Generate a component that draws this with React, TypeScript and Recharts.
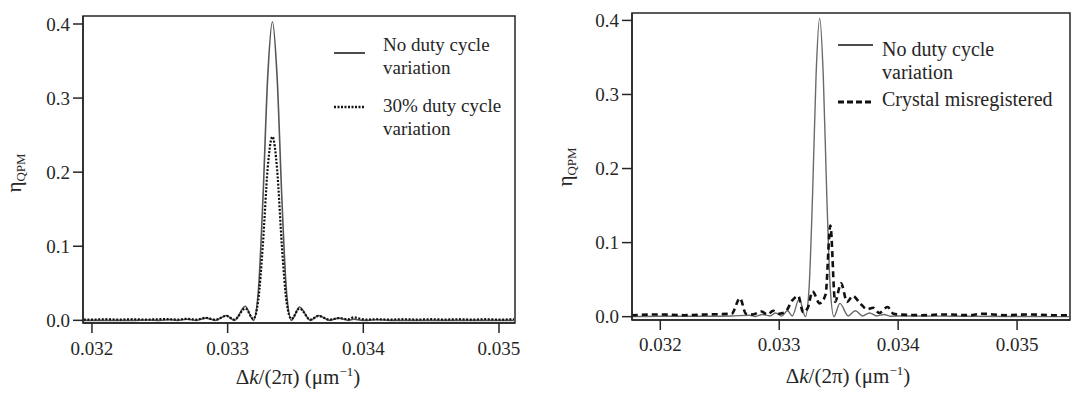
import React from 'react';
import { LineChart, Line, XAxis, YAxis, ReferenceArea, Label } from 'recharts';

const FONT = 'Liberation Serif, Times New Roman, serif';
const INK = '#262626';

const X_TICKS = [0.032, 0.033, 0.034, 0.035];
const Y_TICKS = [0, 0.1, 0.2, 0.3, 0.4];

// left panel: duty cycle variation
const LEFT_K = [
  0.03194, 0.032, 0.0321, 0.0322, 0.0323, 0.0324, 0.0325, 0.03257, 0.03263, 0.0327,
  0.03277, 0.03284, 0.03291, 0.03299, 0.03305, 0.03313, 0.03319, 0.033225, 0.03326, 0.033295,
  0.03333, 0.033365, 0.0334, 0.033435, 0.03347, 0.03353, 0.03361, 0.03367, 0.03375, 0.03382,
  0.03389, 0.03393, 0.03398, 0.03403, 0.0341, 0.0342, 0.0343, 0.0344, 0.0345, 0.0346,
  0.0347, 0.0348, 0.0349, 0.035, 0.03511,
];
const LEFT_NO_VARIATION = [
  0, 0, 0, 0, 0, 0.0005, 0, 0.001, 0, 0.0015,
  0, 0.003, 0, 0.0066, 0, 0.019, 0, 0.036, 0.163, 0.327,
  0.403, 0.327, 0.163, 0.036, 0, 0.018, 0, 0.0066, 0, 0.003,
  0, 0.0015, 0.0003, 0, 0.0008, 0, 0, 0, 0, 0,
  0, 0, 0, 0, 0,
];
const LEFT_30PCT = [
  0.001, 0.001, 0.0015, 0.001, 0.0015, 0.001, 0.0015, 0.0015, 0.001, 0.002,
  0.001, 0.0035, 0.0008, 0.006, 0.001, 0.016, 0.002, 0.026, 0.103, 0.205,
  0.248, 0.203, 0.1, 0.024, 0.002, 0.016, 0.001, 0.006, 0.001, 0.003,
  0.0015, 0.004, 0.002, 0.001, 0.0015, 0.001, 0.0015, 0.001, 0.0015, 0.001,
  0.0015, 0.001, 0.0015, 0.001, 0.0015,
];

// right panel: misregistered crystal
const RIGHT_K_SOLID = [
  0.03176, 0.032, 0.0324, 0.0326, 0.03275, 0.0328, 0.03286, 0.03292, 0.03297, 0.03302,
  0.03307, 0.03311, 0.033168, 0.03322, 0.03325, 0.03328, 0.03331, 0.03334, 0.03337, 0.0334,
  0.03343, 0.03346, 0.03351, 0.03358, 0.03364, 0.0337, 0.03376, 0.03382, 0.03388, 0.03394,
  0.034, 0.0345, 0.03544,
];
const RIGHT_NO_VARIATION = [
  0, 0.0005, 0.0005, 0.001, 0.002, 0.0003, 0.003, 0.001, 0.005, 0.0008,
  0.008, 0.001, 0.024, 0, 0.036, 0.163, 0.327, 0.403, 0.327, 0.163,
  0.036, 0, 0.018, 0.001, 0.008, 0.001, 0.005, 0.001, 0.003, 0.0005,
  0.001, 0.0005, 0,
];
const RIGHT_K_DASHED = [
  0.03176, 0.032, 0.0322, 0.0324, 0.0326, 0.03267, 0.03272, 0.03278, 0.03285, 0.0329,
  0.03295, 0.033, 0.03305, 0.03311, 0.03316, 0.0332, 0.03324, 0.03328, 0.03334, 0.03339,
  0.03343, 0.03347, 0.03352, 0.03357, 0.03362, 0.03368, 0.03374, 0.03379, 0.03384, 0.03391,
  0.03396, 0.034, 0.0342, 0.0344, 0.0346, 0.0347, 0.0349, 0.0351, 0.0353, 0.03544,
];
const RIGHT_MISREGISTERED = [
  0.002, 0.003, 0.002, 0.003, 0.004, 0.025, 0.004, 0.003, 0.007, 0.003,
  0.008, 0.004, 0.006, 0.022, 0.028, 0.006, 0.012, 0.034, 0.018, 0.03,
  0.123, 0.02, 0.045, 0.02, 0.028, 0.018, 0.01, 0.012, 0.005, 0.013,
  0.004, 0.003, 0.002, 0.003, 0.002, 0.004, 0.002, 0.003, 0.002, 0.002,
];

const leftData = LEFT_K.map((k, i) => ({ k, solid: LEFT_NO_VARIATION[i], dotted: LEFT_30PCT[i] }));
const rightSolid = RIGHT_K_SOLID.map((k, i) => ({ k, v: RIGHT_NO_VARIATION[i] }));
const rightDashed = RIGHT_K_DASHED.map((k, i) => ({ k, v: RIGHT_MISREGISTERED[i] }));

function XTick(props: any) {
  const { x, y, payload } = props;
  return (
    <text x={x} y={y} dy="0.71em" textAnchor="middle" fontFamily={FONT} fontSize={19} fill={INK}>
      {Number(payload.value).toFixed(3)}
    </text>
  );
}

function YTick(props: any) {
  const { x, y, payload } = props;
  return (
    <text x={x} y={y} dy="0.355em" textAnchor="end" fontFamily={FONT} fontSize={19} fill={INK}>
      {Number(payload.value).toFixed(1)}
    </text>
  );
}

function YTitle({ x, y }: { x: number; y: number }) {
  return (
    <text x={x} y={y} transform={`rotate(-90, ${x}, ${y})`} textAnchor="middle"
      fontFamily={FONT} fontSize={21} fill={INK}>
      η<tspan fontSize={13} dy={4}>QPM</tspan>
    </text>
  );
}

function XTitle({ x, y }: { x: number; y: number }) {
  return (
    <text x={x} y={y} textAnchor="middle" fontFamily={FONT} fontSize={21} fill={INK}>
      Δ<tspan fontStyle="italic">k</tspan>/(2π) (μm<tspan fontSize={13} dy={-8}>−1</tspan>
      <tspan dy={8}>)</tspan>
    </text>
  );
}

type Series = { data: any[]; key: string; stroke: string; width: number; dash?: string };

function Panel({ width, margin, yAxisWidth, xAxisHeight, xDomain, yDomain, tickMargin, series, yTitle, xTitle }: {
  width: number; margin: any; yAxisWidth: number; xAxisHeight: number;
  xDomain: [number, number]; yDomain: [number, number]; tickMargin: number;
  series: Series[]; yTitle: [number, number]; xTitle: [number, number];
}) {
  return (
    <LineChart width={width} height={396} margin={margin} style={{ fontFamily: FONT }}>
      <XAxis dataKey="k" type="number" domain={xDomain} ticks={X_TICKS} allowDataOverflow
        tick={<XTick />} tickSize={10} tickMargin={tickMargin}
        height={xAxisHeight} stroke={INK} strokeWidth={1.5}>
        <Label content={() => <XTitle x={xTitle[0]} y={xTitle[1]} />} />
      </XAxis>
      <YAxis type="number" domain={yDomain} ticks={Y_TICKS} allowDataOverflow
        tick={<YTick />} tickSize={10} tickMargin={3}
        width={yAxisWidth} stroke={INK} strokeWidth={1.5}>
        <Label content={() => <YTitle x={yTitle[0]} y={yTitle[1]} />} />
      </YAxis>
      <ReferenceArea x1={xDomain[0]} x2={xDomain[1]} y1={yDomain[0]} y2={yDomain[1]}
        fill="none" stroke={INK} strokeWidth={1.5} />
      {series.map((s, i) => (
        <Line key={i} data={s.data} dataKey={s.key} type="monotone" stroke={s.stroke}
          strokeWidth={s.width} strokeDasharray={s.dash} dot={false} isAnimationActive={false} />
      ))}
    </LineChart>
  );
}

const textStyle: React.CSSProperties = { position: 'absolute', fontFamily: FONT, color: INK, whiteSpace: 'nowrap' };

export default function App() {
  return (
    <div style={{ position: 'absolute', left: 0, top: 0, width: 1074, height: 396, background: '#fff', overflow: 'hidden', fontFamily: FONT }}>
      <div style={{ position: 'absolute', left: 0, top: 0 }}>
        <Panel width={540} margin={{ top: 16, right: 25, bottom: 0, left: 0 }} yAxisWidth={83} xAxisHeight={73}
          xDomain={[0.031934, 0.035118]} yDomain={[-0.0036, 0.4108]} tickMargin={9}
          yTitle={[21, 173]} xTitle={[298, 384]}
          series={[
            { data: leftData, key: 'solid', stroke: '#555', width: 1.6 },
            { data: leftData, key: 'dotted', stroke: '#111', width: 2.2, dash: '2 1.6' },
          ]} />
        <svg style={{ position: 'absolute', left: 0, top: 0 }} width={540} height={396} pointerEvents="none">
          <line x1={334} x2={365} y1={53} y2={53} stroke="#111" strokeWidth={1.5} />
          <line x1={334} x2={365} y1={107} y2={107} stroke="#111" strokeWidth={2.5} strokeDasharray="2 1.5" />
        </svg>
        <div style={{ ...textStyle, left: 383, top: 33, fontSize: 19, lineHeight: '23px' }}>No duty cycle<br />variation</div>
        <div style={{ ...textStyle, left: 383, top: 94, fontSize: 19, lineHeight: '23px' }}>30% duty cycle<br />variation</div>
      </div>
      <div style={{ position: 'absolute', left: 540, top: 0 }}>
        <Panel width={534} margin={{ top: 13, right: 4, bottom: 0, left: 0 }} yAxisWidth={92} xAxisHeight={76}
          xDomain={[0.031762, 0.035445]} yDomain={[-0.0045, 0.41]} tickMargin={8}
          yTitle={[32, 167]} xTitle={[308, 383]}
          series={[
            { data: rightSolid, key: 'v', stroke: '#6a6a6a', width: 1.4 },
            { data: rightDashed, key: 'v', stroke: '#111', width: 2.6, dash: '6 4' },
          ]} />
        <svg style={{ position: 'absolute', left: 0, top: 0 }} width={534} height={396} pointerEvents="none">
          <line x1={298} x2={333} y1={45} y2={45} stroke="#111" strokeWidth={1.5} />
          <line x1={298} x2={333} y1={102} y2={102} stroke="#111" strokeWidth={3} strokeDasharray="6 3" />
        </svg>
        <div style={{ ...textStyle, left: 342, top: 38, fontSize: 20, lineHeight: '23px' }}>No duty cycle<br />variation</div>
        <div style={{ ...textStyle, left: 342, top: 88, fontSize: 20, lineHeight: '23px' }}>Crystal misregistered</div>
      </div>
    </div>
  );
}
